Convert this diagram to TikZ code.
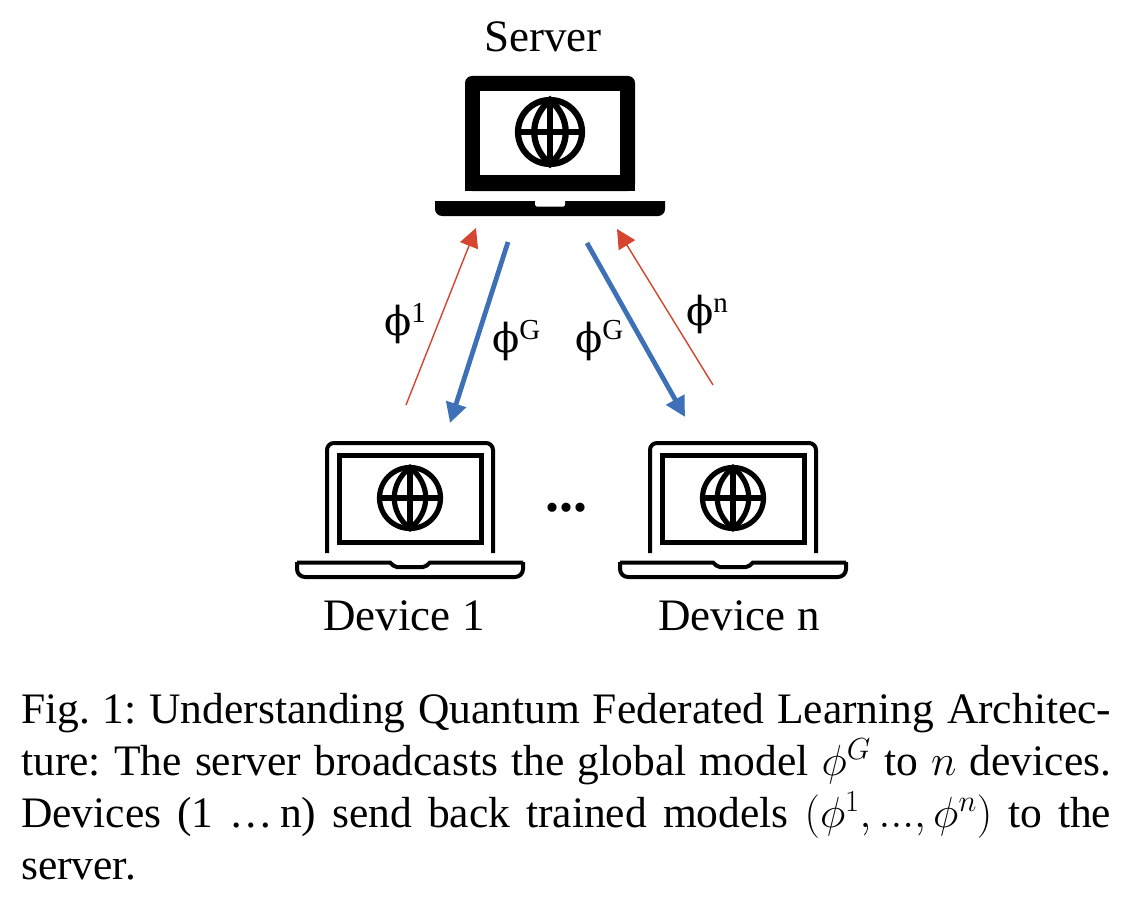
\RequirePackage{fix-cm}
\documentclass[tikz,border=0pt]{standalone}
\usepackage{fontspec}
\setmainfont{Liberation Serif}
\newfontfamily\phifont{DejaVu Serif}
\usetikzlibrary{arrows.meta}
\definecolor{arrowred}{HTML}{D5452F}
\definecolor{arrowblue}{HTML}{3E70B8}
\newcommand{\philabel}[1]{{\phifont\fontsize{40}{50}\selectfont ϕ}\raisebox{13pt}{\fontsize{29}{30}\selectfont #1}}
\tikzset{
  x=1pt,y=-1pt,
  label text/.style={inner sep=0pt,font=\fontsize{45}{50}\selectfont,anchor=base},
  phi label/.style={inner sep=0pt,anchor=base west},
  send/.style={draw=arrowred,line width=1.4pt,-{Triangle[length=19pt,width=19pt]}},
  bcast/.style={draw=arrowblue,line width=4.8pt,-{Triangle[length=20pt,width=20pt]}},
  pics/globe/.style n args={2}{code={
    \draw[line width=#1] (0,0) circle (#2);
    \draw[line width=#1] (0,-#2) .. controls (-21,-14) and (-21,14) .. (0,#2) .. controls (21,14) and (21,-14) .. (0,-#2) -- cycle;
    \draw[line width=#1] (-#2,0) -- (#2,0) (0,-#2) -- (0,#2);
  }},
  pics/server laptop/.style={code={
    \fill[black,rounded corners=7pt] (-85,-56) -- (85,-56) -- (85,59) -- (-85,59) -- cycle;
    \fill[black] (-85,40) rectangle (85,59);
    \fill[white] (-70,-41) rectangle (70,43);
    \pic at (0,0) {globe={6.2pt}{32}};
    \fill[black] (-115,69) -- (115,69) [rounded corners=7pt] -- (115,84) -- (-115,84) [sharp corners] -- (-115,69) -- cycle;
    \fill[white,rounded corners=1.5pt] (-15,67) rectangle (15,74.5);
  }},
  pics/device laptop/.style={code={
    \draw[line width=4pt,rounded corners=7pt] (-83,55) -- (-83,-55) -- (83,-55) -- (83,55);
    \draw[line width=5pt] (-71,-43) rectangle (71,44);
    \pic at (0,0) {globe={5.2pt}{30.5}};
    \draw[line width=4pt,rounded corners=8pt] (-113,64) -- (-113,79) -- (113,79) -- (113,64);
    \draw[line width=4pt] (-113,64.5) -- (-20,64.5) [rounded corners=2pt] -- (-15,69) -- (15,69) [sharp corners] -- (20,64.5) -- (113,64.5);
  }},
}
\begin{document}
\begin{tikzpicture}
\useasboundingbox (0,0) rectangle (1126,904);
\fill[white] (0,0) rectangle (1126,904);

\node[label text] (server label) at (543,52) {Server};
\pic at (550,132) {server laptop};
\pic at (410,498) {device laptop};
\pic at (733,498) {device laptop};
\node[label text] (device one) at (404,630) {Device 1};
\node[label text] (device n) at (739,630) {Device n};
\node[label text,font=\bfseries\fontsize{56}{50}\selectfont] (dots) at (566,511) {...};

\coordinate (r1s) at (406,405);
\coordinate (r1e) at (476,228);
\coordinate (b1s) at (508,242);
\coordinate (b1e) at (450,423);
\coordinate (b2s) at (587,243);
\coordinate (b2e) at (685,417);
\coordinate (r2s) at (713,385);
\coordinate (r2e) at (617,229);
\draw[send] (r1s) -- (r1e);
\draw[bcast] (b1s) -- (b1e);
\draw[bcast] (b2s) -- (b2e);
\draw[send] (r2s) -- (r2e);

\node[phi label] (phi one) at (384,335) {\philabel{1}};
\node[phi label] (phi g left) at (492,352) {\philabel{G}};
\node[phi label] (phi g right) at (575,352) {\philabel{G}};
\node[phi label] (phi n) at (686,325) {\philabel{n}};

\node[inner sep=0pt,anchor=north west,text width=1090pt,align=justify,
  font=\fontsize{43.5}{52}\selectfont\frenchspacing] (caption) at (21,693) {Fig.~1: Understanding Quantum Federated Learning Architec-\linebreak ture: The server broadcasts the global model $\phi^G$ to $n$ devices.\linebreak Devices (1 \ldots\,n) send back trained models $(\phi^1, ..., \phi^n)$ to the\linebreak server.};
\end{tikzpicture}
\end{document}
